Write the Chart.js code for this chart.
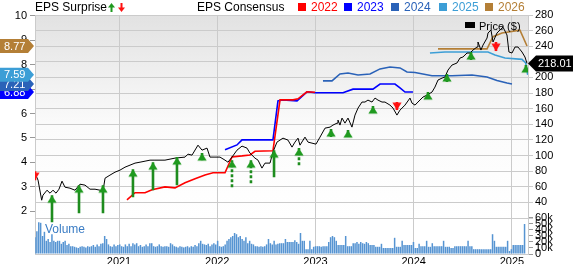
<!DOCTYPE html>
<html><head><meta charset="utf-8">
<script src="https://cdn.jsdelivr.net/npm/chart.js@4.4.0/dist/chart.umd.min.js"></script>
<style>html,body{margin:0;padding:0;background:#fff;overflow:hidden}canvas{display:block}</style>
</head><body>
<canvas id="c" width="573" height="264" style="width:573px;height:264px"></canvas>
<script>
// ---------- data ----------
const yearTicks = [2021, 2022, 2023, 2024, 2025];
const priceTicks = [20, 40, 60, 80, 100, 120, 140, 160, 180, 200, 220, 240, 260, 280];
const epsTicks = [2, 3, 4, 5, 6, 7, 8, 9, 10];
const volumeTicks = [0, 10, 20, 30, 40, 50, 60];
const seriesNames = ['2022', '2023', '2024', '2025', '2026'];
const lastPrice = 218.01;
const lastEps = { '2026': 8.77, '2025': 7.59, '2024': 7.21, '2023': 6.88 };

// price: [decimal year, $]
const pricePoints = [
[2020.145,77.4],[2020.176,68.5],[2020.213,42.8],[2020.226,49.2],[2020.267,55.6],[2020.298,51.8],[2020.328,55.6],[2020.359,51.8],[2020.389,56.9],[2020.420,67.2],
[2020.450,59.5],[2020.501,58.2],[2020.552,55.6],[2020.603,63.3],[2020.654,62.1],[2020.705,56.9],[2020.756,56.9],[2020.807,55.6],[2020.837,54.4],[2020.858,71.0],
[2020.908,74.9],[2020.959,78.7],[2021.010,81.3],[2021.061,85.1],[2021.112,87.7],[2021.163,90.3],[2021.214,91.5],[2021.265,92.8],[2021.316,94.1],[2021.366,94.1],
[2021.468,94.1],[2021.570,96.7],[2021.672,98.0],[2021.702,101.8],[2021.743,100.5],[2021.804,113.3],[2021.845,106.9],[2021.896,109.5],[2021.926,98.0],[2021.977,98.0],
[2022.028,98.0],[2022.079,94.1],[2022.109,91.5],[2022.150,98.0],[2022.201,106.9],[2022.252,112.1],[2022.303,109.5],[2022.333,103.1],[2022.384,96.7],[2022.415,94.1],
[2022.455,83.9],[2022.486,90.3],[2022.537,90.3],[2022.567,104.4],[2022.608,117.2],[2022.639,119.8],[2022.669,122.3],[2022.720,119.8],[2022.761,110.8],[2022.791,117.2],
[2022.822,122.3],[2022.842,113.3],[2022.893,123.6],[2022.924,117.2],[2022.964,115.9],[2023.005,114.6],[2023.046,123.6],[2023.097,135.1],[2023.148,136.4],[2023.178,139.0],
[2023.219,141.5],[2023.229,145.4],[2023.249,139.0],[2023.270,148.0],[2023.300,141.5],[2023.331,148.0],[2023.371,136.4],[2023.402,151.8],[2023.433,160.8],[2023.473,168.5],
[2023.504,168.5],[2023.534,171.0],[2023.575,168.5],[2023.606,173.6],[2023.636,171.0],[2023.677,168.5],[2023.707,168.5],[2023.758,164.6],[2023.789,160.8],[2023.829,151.8],
[2023.860,158.2],[2023.911,164.6],[2023.962,173.6],[2023.982,167.2],[2024.013,164.6],[2024.043,168.5],[2024.094,174.9],[2024.135,177.4],[2024.186,181.3],[2024.216,187.7],
[2024.247,196.7],[2024.288,199.2],[2024.318,200.5],[2024.349,209.5],[2024.389,215.9],[2024.440,218.5],[2024.471,224.9],[2024.501,226.2],[2024.542,231.3],[2024.573,231.3],
[2024.603,235.1],[2024.644,239.0],[2024.654,245.4],[2024.684,235.1],[2024.705,241.5],[2024.746,250.5],[2024.756,256.9],[2024.786,260.8],[2024.807,245.4],[2024.847,256.9],
[2024.878,260.8],[2024.908,264.6],[2024.949,254.4],[2024.969,232.6],[2025.000,231.3],[2025.031,239.0],[2025.061,239.0],[2025.102,232.6],[2025.132,226.2],[2025.153,218.01]
];

// EPS consensus by fiscal year: [decimal year, EPS]
const eps2022 = [[2021.081,2.46],[2021.163,2.75],[2021.265,2.75],[2021.336,2.87],[2021.468,2.99],[2021.570,2.95],[2021.672,3.16],[2021.774,3.32],[2021.875,3.48],[2021.957,3.57],[2022.079,3.57],[2022.150,4.22],[2022.252,4.26],[2022.333,4.30],[2022.384,4.45],[2022.567,4.47],[2022.639,6.56],[2022.771,6.56],[2022.822,6.60],[2022.913,6.89],[2022.995,6.87]];
const eps2023 = [[2022.079,4.51],[2022.201,4.71],[2022.252,4.92],[2022.567,4.92],[2022.618,6.52],[2022.669,6.56],[2022.812,6.52],[2022.913,6.89],[2022.995,6.85],[2023.280,6.85],[2023.382,7.00],[2023.585,7.00],[2023.657,7.21],[2023.809,7.21],[2023.860,7.05],[2023.911,6.88],[2023.992,6.88]];
const eps2024 = [[2023.076,7.34],[2023.168,7.34],[2023.249,7.62],[2023.331,7.66],[2023.433,7.58],[2023.555,7.62],[2023.657,7.83],[2023.758,7.91],[2023.860,7.87],[2023.931,7.70],[2024.013,7.68],[2024.186,7.55],[2024.389,7.55],[2024.593,7.58],[2024.746,7.50],[2024.847,7.35],[2024.949,7.25],[2025.000,7.21]];
const eps2025 = [[2024.165,8.48],[2024.318,8.52],[2024.593,8.52],[2024.756,8.52],[2024.827,8.40],[2024.929,8.28],[2025.102,8.22],[2025.140,8.07],[2025.160,7.59]];
const eps2026 = [[2024.247,8.65],[2024.746,8.65],[2024.807,9.15],[2024.898,9.30],[2025.081,9.42],[2025.153,8.77]];

// EPS surprise arrows on the price line: [decimal year, tip $, tail $]
const beatArrows = [[2020.318,49.2,14.6],[2020.593,62.1,26.2],[2020.837,62.1,26.2],[2021.142,82.6,46.7],[2021.346,91.5,55.6],[2021.590,98.0,62.1],[2021.845,103.1,94.1],[2022.578,106.9,72.3],[2023.158,133.9,123.6],[2023.331,132.6,123.6],[2023.585,163.3,154.4],[2024.145,181.3,172.3],[2024.338,204.4,194.1],[2024.583,232.6,222.3],[2025.142,215.9,206.9]];
const beatArrowsDashed = [[2022.150,94.1,59.5],[2022.343,94.1,64.6],[2022.832,109.5,87.7]];
const missArrows = [[2020.145,68.5,80.0],[2023.829,158.2,168.5],[2024.837,233.8,245.4]];

// weekly volume (thousands), first week starts at volumeStart
const volumeStart = 2020.145;
const volumeValues = [
28,38,53,52,30,37,22,25,20,33, 22,20,22,22,17,20,22,15,17,13, 13,12,11,10,12,13,12,11,13,12,
13,15,12,16,13,17,18,30,25,16, 13,12,16,13,15,16,13,12,16,13, 17,13,18,16,18,13,15,12,13,16,
13,18,18,13,12,13,16,13,12,13, 13,12,18,16,13,12,11,13,12,11, 12,13,11,13,12,15,13,18,22,17,
16,15,17,13,16,18,16,22,13,12, 13,16,22,25,28,30,35,33,28,30, 25,22,28,18,22,17,16,13,13,12,
13,12,13,16,25,18,16,22,16,17, 18,18,18,25,20,20,20,20,23,20, 17,35,22,22,8,8,22,8,12,13,
13,13,12,13,13,13,20,28,30,28, 22,15,15,15,15,30,13,13,13,18, 18,20,17,20,18,17,20,18,15,15,
15,12,12,12,17,10,10,10,10,10, 10,27,12,12,12,22,15,15,15,15, 15,20,10,10,17,13,13,13,22,12,
12,18,13,13,13,13,13,22,12,12, 12,10,10,13,13,13,13,13,13,13, 22,13,13,8,8,8,8,8,8,8,
8,8,8,33,22,12,12,12,12,12, 12,22,5,8,15,15,15,15,15,15, 50
];

// ---------- styles ----------
const C = { y2022:'#ff0000', y2023:'#0000ff', y2024:'#2a62b8', y2025:'#3c9ed6', y2026:'#b47f36',
  grid:'#cbcbcb', beat:'#1e8c1e', miss:'#ff1010', vol:'#5694d2', volText:'#3a7cc4' };
const FONT = '"Liberation Sans", Arial, sans-serif';
const X_MIN = 2020.145, X_MAX = 2025.163;

function pts(arr){ return arr.map(p => ({x:p[0], y:p[1]})); }
function stems(arr){ const out=[]; arr.forEach(a => { out.push({x:a[0],y:a[2]}); out.push({x:a[0],y:a[1]}); out.push({x:a[0],y:null}); }); return out; }
function head(color, up){
  const c=document.createElement('canvas'); c.width=10; c.height=18;
  const g=c.getContext('2d'); g.fillStyle=color; g.beginPath();
  if(up){ g.moveTo(5,9); g.lineTo(9.6,16.6); g.lineTo(0.4,16.6); }
  else { g.moveTo(5,9); g.lineTo(9.6,1.4); g.lineTo(0.4,1.4); }
  g.closePath(); g.fill(); return c;
}
const upHead = head('#1f9a1f', true), downHead = head(C.miss, false);

const epsLine = (data, color) => ({ type:'line', data: pts(data), yAxisID:'yEps', borderColor: color, borderWidth:1.6, pointRadius:0, tension:0, order:3 });

const datasets = [
  { type:'bar', data: volumeValues.map((v,i)=>({x: volumeStart + i*7/365.25, y:v})), yAxisID:'yVol', backgroundColor:C.vol, borderWidth:0, barPercentage:0.8, categoryPercentage:1, order:5 },
  epsLine(eps2022, C.y2022), epsLine(eps2023, C.y2023), epsLine(eps2024, C.y2024), epsLine(eps2025, C.y2025), epsLine(eps2026, C.y2026),
  { type:'line', data: pts(pricePoints), yAxisID:'yPrice', borderColor:'#000', borderWidth:1, pointRadius:0, tension:0, order:2 },
  { type:'line', data: stems(beatArrows), yAxisID:'yPrice', borderColor:C.beat, borderWidth:2.6, pointRadius:0, spanGaps:false, order:1 },
  { type:'line', data: stems(beatArrowsDashed), yAxisID:'yPrice', borderColor:C.beat, borderWidth:2.6, borderDash:[3,2], pointRadius:0, spanGaps:false, order:1 },
  { type:'line', data: stems(missArrows), yAxisID:'yPrice', borderColor:C.miss, borderWidth:2.6, pointRadius:0, spanGaps:false, order:1 },
  { type:'line', data: beatArrows.concat(beatArrowsDashed).map(a=>({x:a[0],y:a[1]})), yAxisID:'yPrice', showLine:false, pointStyle:upHead, pointRadius:5, order:0 },
  { type:'line', data: missArrows.map(a=>({x:a[0],y:a[1]})), yAxisID:'yPrice', showLine:false, pointStyle:downHead, pointRadius:5, order:0 }
];

const setTicks = list => s => { s.ticks = list.map(v => ({value:v})); };

const bgPlugin = { id:'bg',
  afterLayout(chart){ const v = chart.scales.yVol; v.right = chart.width; },
  beforeDraw(chart){
    const {ctx, chartArea:a, scales} = chart; const yb = scales.yPrice.getPixelForValue(20);
    const g = ctx.createLinearGradient(0, a.top, 0, yb);
    g.addColorStop(0, '#e2e2e2'); g.addColorStop(0.55, '#fbfbfb'); g.addColorStop(1, '#ffffff');
    ctx.save(); ctx.fillStyle = g; ctx.fillRect(a.left, a.top, a.right-a.left, yb-a.top); ctx.restore();
  }};

function tagLeft(ctx, y, color, text){
  ctx.fillStyle=color; ctx.beginPath(); ctx.moveTo(0,y-7); ctx.lineTo(28,y-7); ctx.lineTo(34,y); ctx.lineTo(28,y+7); ctx.lineTo(0,y+7); ctx.closePath(); ctx.fill();
  ctx.fillStyle='#fff'; ctx.font='11px '+FONT; ctx.textAlign='left'; ctx.textBaseline='middle'; ctx.fillText(text, 4, y+0.5);
}
const overlay = { id:'overlay', afterDraw(chart){
  const {ctx, scales} = chart; ctx.save();
  ctx.font='12px '+FONT; ctx.fillStyle='#000'; ctx.textBaseline='alphabetic'; ctx.textAlign='left';
  ctx.fillText('EPS Surprise', 35, 11);
  ctx.fillStyle='#1f9a1f'; ctx.beginPath(); ctx.moveTo(111.5,3); ctx.lineTo(115,7.5); ctx.lineTo(108,7.5); ctx.closePath(); ctx.fill(); ctx.fillRect(110.5,7,2,5);
  ctx.fillStyle=C.miss; ctx.beginPath(); ctx.moveTo(121.5,12); ctx.lineTo(125,7.5); ctx.lineTo(118,7.5); ctx.closePath(); ctx.fill(); ctx.fillRect(120.5,3,2,5);
  ctx.fillStyle='#000'; ctx.fillText('EPS Consensus', 197, 11);
  const cols=[C.y2022,C.y2023,C.y2024,C.y2025,C.y2026]; const xs=[311,357,404,452,498];
  seriesNames.forEach((n,i)=>{ ctx.fillStyle=cols[i]; ctx.fillRect(xs[i]-13,3,8,8); ctx.fillText(n, xs[i], 11); });
  ctx.fillStyle='#000'; ctx.fillRect(465,22,10,6); ctx.font='11px '+FONT; ctx.fillText('Price ($)', 479, 30);
  ctx.fillStyle=C.volText; ctx.font='12px '+FONT; ctx.fillText('Volume', 45, 233);
  const ye = scales.yEps;
  tagLeft(ctx, ye.getPixelForValue(lastEps['2026']), C.y2026, lastEps['2026'].toFixed(2));
  tagLeft(ctx, ye.getPixelForValue(lastEps['2023']), C.y2023, lastEps['2023'].toFixed(2));
  tagLeft(ctx, ye.getPixelForValue(lastEps['2024']), C.y2024, lastEps['2024'].toFixed(2));
  tagLeft(ctx, ye.getPixelForValue(lastEps['2025']), C.y2025, lastEps['2025'].toFixed(2));
  const yp = scales.yPrice.getPixelForValue(lastPrice);
  ctx.fillStyle='#000'; ctx.beginPath(); ctx.moveTo(528,yp); ctx.lineTo(536,yp-8); ctx.lineTo(573,yp-8); ctx.lineTo(573,yp+8); ctx.lineTo(536,yp+8); ctx.closePath(); ctx.fill();
  ctx.fillStyle='#fff'; ctx.font='11px '+FONT; ctx.textBaseline='middle'; ctx.fillText(lastPrice.toFixed(2), 538, yp+0.5);
  ctx.restore();
}};

new Chart(document.getElementById('c'), {
  type:'line',
  data:{ datasets },
  options:{
    responsive:false, animation:false, devicePixelRatio:1,
    layout:{ padding:{ top:15, left:0, right:0, bottom:0 } },
    plugins:{ legend:{display:false}, tooltip:{enabled:false} },
    scales:{
      x:{ type:'linear', position:'bottom', min:X_MIN, max:X_MAX, offset:false, afterBuildTicks:setTicks(yearTicks),
          ticks:{ callback:v=>String(v), color:'#000', font:{size:11, family:FONT}, padding:1, maxRotation:0, autoSkip:false },
          grid:{ color:C.grid, tickLength:0, offset:false }, border:{display:true, color:C.grid},
          afterFit:s=>{ s.height=10; } },
      yEps:{ type:'linear', position:'left', min:0.236, max:10.041, afterBuildTicks:setTicks(epsTicks),
          ticks:{ color:'#000', font:{size:11, family:FONT}, padding:3 },
          grid:{ drawOnChartArea:false, tickLength:5, color:'#999' }, border:{display:true, color:C.grid},
          afterFit:s=>{ s.width=35; } },
      yVol:{ type:'linear', position:'right', weight:0, min:0, max:398.3, afterBuildTicks:setTicks(volumeTicks),
          ticks:{ callback:v=> v===0 ? '0' : v+'k', color:'#000', font:{size:11, family:FONT}, padding:2, autoSkip:false },
          grid:{ drawOnChartArea:false, tickLength:5, color:'#999' }, border:{display:false},
          afterFit:s=>{ s.width=0; } },
      yPrice:{ type:'linear', position:'right', weight:1, min:-26.1, max:280, afterBuildTicks:setTicks(priceTicks),
          ticks:{ callback:v=> v===20 ? '' : String(v), color:'#000', font:{size:11, family:FONT}, padding:2, autoSkip:false },
          grid:{ color:C.grid, tickLength:5 }, border:{display:true, color:C.grid},
          afterFit:s=>{ s.width=45; } }
    }
  },
  plugins:[bgPlugin, overlay]
});
</script>
</body></html>
